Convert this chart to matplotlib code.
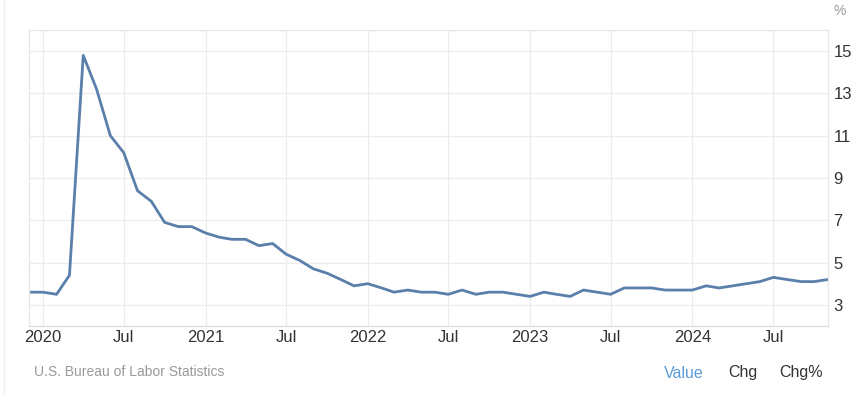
import matplotlib.pyplot as plt
import matplotlib.dates as mdates
from matplotlib.lines import Line2D
import pandas as pd

# US unemployment rate, monthly, Dec 2019 - Nov 2024
months = pd.date_range('2019-12-01', '2024-11-01', freq='MS')
rate = [3.6,
        3.6, 3.5, 4.4, 14.8, 13.2, 11.0, 10.2, 8.4, 7.9, 6.9, 6.7, 6.7,
        6.4, 6.2, 6.1, 6.1, 5.8, 5.9, 5.4, 5.1, 4.7, 4.5, 4.2, 3.9,
        4.0, 3.8, 3.6, 3.7, 3.6, 3.6, 3.5, 3.7, 3.5, 3.6, 3.6, 3.5,
        3.4, 3.6, 3.5, 3.4, 3.7, 3.6, 3.5, 3.8, 3.8, 3.8, 3.7, 3.7,
        3.7, 3.9, 3.8, 3.9, 4.0, 4.1, 4.3, 4.2, 4.1, 4.1, 4.2]
y_ticks = [3, 5, 7, 9, 11, 13, 15]
x_ticks = pd.to_datetime(['2020-01-01', '2020-07-01', '2021-01-01', '2021-07-01',
                          '2022-01-01', '2022-07-01', '2023-01-01', '2023-07-01',
                          '2024-01-01', '2024-07-01'])
x_labels = ['2020', 'Jul', '2021', 'Jul', '2022', 'Jul', '2023', 'Jul', '2024', 'Jul']

plt.rcParams['font.family'] = ['Liberation Sans', 'DejaVu Sans']

fig = plt.figure(figsize=(8.6, 3.94), dpi=100)
ax = fig.add_axes([29/860, 1 - 326/394, (828 - 29)/860, (326 - 30)/394])

ax.plot(months, rate, color='#5a7fab', lw=2.0, solid_joinstyle='round', solid_capstyle='round')

ax.set_xlim(months[0], months[-1])
ax.set_ylim(2, 16)
ax.set_yticks(y_ticks)
ax.set_xticks(x_ticks)
ax.set_xticklabels(x_labels)
ax.yaxis.tick_right()
ax.tick_params(axis='y', length=0, pad=4, labelsize=12, labelcolor='#333333')
ax.tick_params(axis='x', length=0, pad=3, labelsize=12, labelcolor='#333333')

ax.grid(True, color='#ececec', lw=0.9)
ax.set_axisbelow(True)
for side in ['left', 'right', 'top', 'bottom']:
    ax.spines[side].set_color('#e6e6e6')
    ax.spines[side].set_linewidth(0.9)
ax.spines['bottom'].set_color('#dcdcdc')

fig.text(840/860, 1 - 11/394, '%', ha='center', va='center', fontsize=10, color='#999999')
fig.text(34/860, 1 - 372/394, 'U.S. Bureau of Labor Statistics', ha='left', va='center',
         fontsize=10, color='#999999')
fig.text(684/860, 1 - 373/394, 'Value', ha='center', va='center', fontsize=11.5, color='#5b9bd5')
fig.text(743/860, 1 - 373/394, 'Chg', ha='center', va='center', fontsize=11.5, color='#333333')
fig.text(801/860, 1 - 373/394, 'Chg%', ha='center', va='center', fontsize=11.5, color='#333333')

fig.add_artist(Line2D([3.5/860, 3.5/860], [0, 1], transform=fig.transFigure, color='#eeeeee', lw=1))

fig.savefig('out.png', dpi=100)
